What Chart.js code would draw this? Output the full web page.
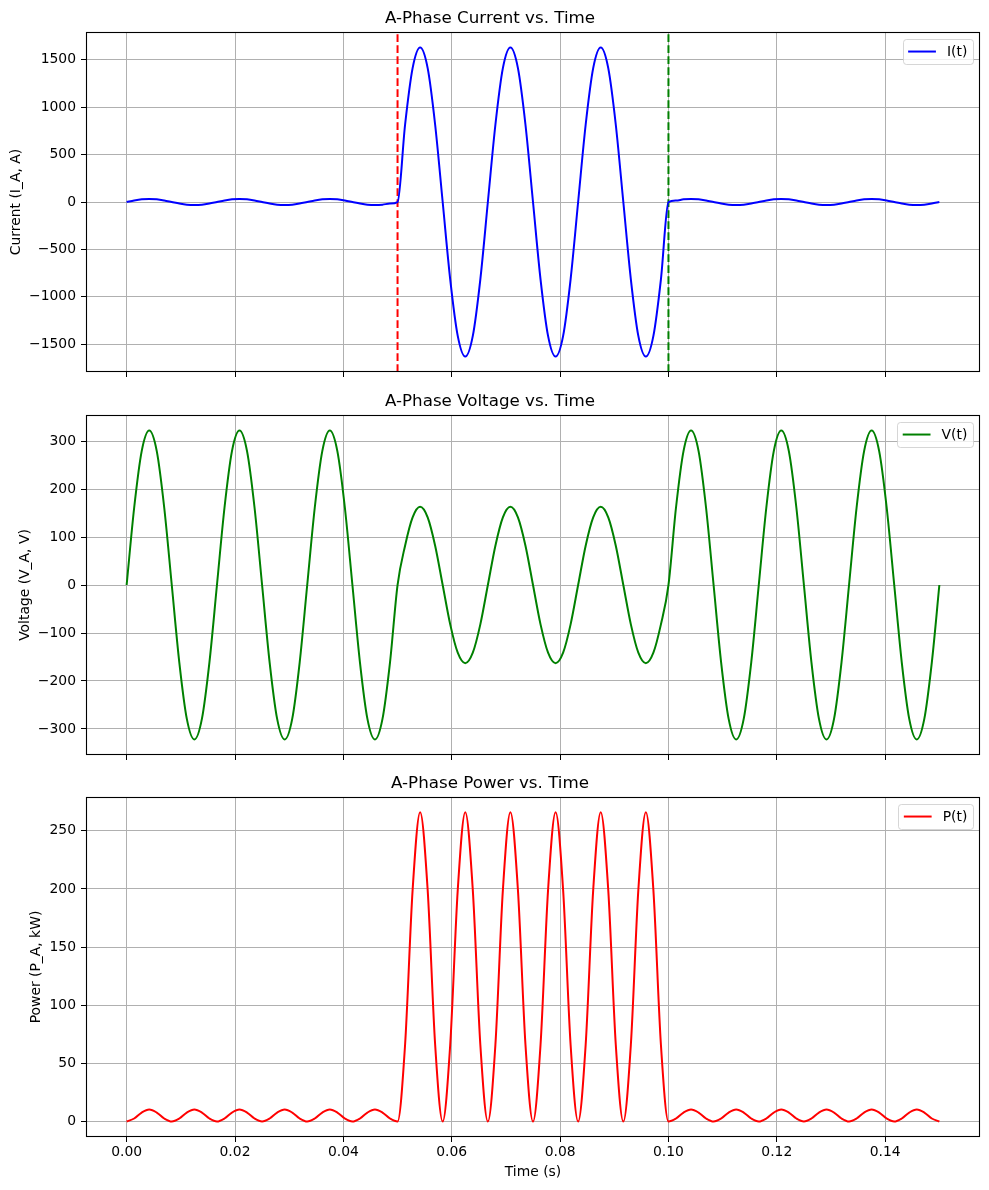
<!DOCTYPE html>
<html>
<head>
<meta charset="utf-8">
<script src="https://cdn.jsdelivr.net/npm/chart.js@4.4.0/dist/chart.umd.min.js"></script>
<style>
  html, body { margin: 0; padding: 0; background: #fff; }
  #fig { position: relative; width: 989px; height: 1190px; }
  #fig canvas { position: absolute; left: 0; }
</style>
</head>
<body>
<div id="fig">
  <canvas id="currentChart" width="989" height="400" style="top:0"></canvas>
  <canvas id="voltageChart" width="989" height="400" style="top:383px"></canvas>
  <canvas id="powerChart" width="989" height="425" style="top:765px"></canvas>
</div>
<script>
// sample times (s)
const time = [
  0, 0.00139, 0.00278, 0.00417, 0.00556, 0.00694, 0.00833, 0.00972, 0.01111, 0.0125, 0.01389, 0.01528,
  0.01667, 0.01806, 0.01944, 0.02083, 0.02222, 0.02361, 0.025, 0.02639, 0.02778, 0.02917, 0.03056, 0.03194,
  0.03333, 0.03472, 0.03611, 0.0375, 0.03889, 0.04028, 0.04167, 0.04306, 0.04444, 0.04583, 0.04722, 0.04861,
  0.05, 0.05139, 0.05278, 0.05417, 0.05556, 0.05694, 0.05833, 0.05972, 0.06111, 0.0625, 0.06389, 0.06528,
  0.06667, 0.06806, 0.06944, 0.07083, 0.07222, 0.07361, 0.075, 0.07639, 0.07778, 0.07917, 0.08056, 0.08194,
  0.08333, 0.08472, 0.08611, 0.0875, 0.08889, 0.09028, 0.09167, 0.09306, 0.09444, 0.09583, 0.09722, 0.09861,
  0.1, 0.10139, 0.10278, 0.10417, 0.10556, 0.10694, 0.10833, 0.10972, 0.11111, 0.1125, 0.11389, 0.11528,
  0.11667, 0.11806, 0.11944, 0.12083, 0.12222, 0.12361, 0.125, 0.12639, 0.12778, 0.12917, 0.13056, 0.13194,
  0.13333, 0.13472, 0.13611, 0.1375, 0.13889, 0.14028, 0.14167, 0.14306, 0.14444, 0.14583, 0.14722, 0.14861,
  0.15
];

// I_A (A)
const current = [
  0, 16, 28, 32, 28, 16, 0, -16, -28, -32, -28, -16,
  0, 16, 28, 32, 28, 16, 0, -16, -28, -32, -28, -16,
  0, 16, 28, 32, 28, 16, 0, -16, -28, -32, -28, -16,
  0, 815, 1412, 1630, 1412, 815, 0, -815, -1412, -1630, -1412, -815,
  0, 815, 1412, 1630, 1412, 815, 0, -815, -1412, -1630, -1412, -815,
  0, 815, 1412, 1630, 1412, 815, 0, -815, -1412, -1630, -1412, -815,
  0, 16, 28, 32, 28, 16, 0, -16, -28, -32, -28, -16,
  0, 16, 28, 32, 28, 16, 0, -16, -28, -32, -28, -16,
  0, 16, 28, 32, 28, 16, 0, -16, -28, -32, -28, -16,
  0
];

// V_A (V)
const voltage = [
  0, 161, 279, 322, 279, 161, 0, -161, -279, -322, -279, -161,
  0, 161, 279, 322, 279, 161, 0, -161, -279, -322, -279, -161,
  0, 161, 279, 322, 279, 161, 0, -161, -279, -322, -279, -161,
  0, 82, 141, 163, 141, 82, 0, -82, -141, -163, -141, -82,
  0, 82, 141, 163, 141, 82, 0, -82, -141, -163, -141, -82,
  0, 82, 141, 163, 141, 82, 0, -82, -141, -163, -141, -82,
  0, 161, 279, 322, 279, 161, 0, -161, -279, -322, -279, -161,
  0, 161, 279, 322, 279, 161, 0, -161, -279, -322, -279, -161,
  0, 161, 279, 322, 279, 161, 0, -161, -279, -322, -279, -161,
  0
];

// P_A (kW)
const power = [
  0, 2.6, 7.7, 10.3, 7.7, 2.6, 0, 2.6, 7.7, 10.3, 7.7, 2.6,
  0, 2.6, 7.7, 10.3, 7.7, 2.6, 0, 2.6, 7.7, 10.3, 7.7, 2.6,
  0, 2.6, 7.7, 10.3, 7.7, 2.6, 0, 2.6, 7.7, 10.3, 7.7, 2.6,
  0, 66, 199, 266, 199, 66, 0, 66, 199, 266, 199, 66,
  0, 66, 199, 266, 199, 66, 0, 66, 199, 266, 199, 66,
  0, 66, 199, 266, 199, 66, 0, 66, 199, 266, 199, 66,
  0, 2.6, 7.7, 10.3, 7.7, 2.6, 0, 2.6, 7.7, 10.3, 7.7, 2.6,
  0, 2.6, 7.7, 10.3, 7.7, 2.6, 0, 2.6, 7.7, 10.3, 7.7, 2.6,
  0, 2.6, 7.7, 10.3, 7.7, 2.6, 0, 2.6, 7.7, 10.3, 7.7, 2.6,
  0
];

const faultStart = 0.05;
const faultEnd = 0.1;

const timeTicks = [0, 0.02, 0.04, 0.06, 0.08, 0.1, 0.12, 0.14];
const currentTicks = [-1500, -1000, -500, 0, 500, 1000, 1500];
const voltageTicks = [-300, -200, -100, 0, 100, 200, 300];
const powerTicks = [0, 50, 100, 150, 200, 250];

const timeRange = [-0.0075, 0.1575];
const currentRange = [-1793, 1793];
const voltageRange = [-354.2, 354.2];
const powerRange = [-13.3, 279];

const FONT = 'DejaVu Sans';
const tickFont = { family: FONT, size: 13.9 };
const titleFont = { family: FONT, size: 16.7, weight: 'normal' };
const gridColor = '#b0b0b0';

Chart.defaults.color = '#000';
Chart.defaults.font.family = FONT;
Chart.defaults.devicePixelRatio = 1;

const minus = v => String(v).replace('-', '\u2212');

// full axes box + matplotlib-style legend
const framePlugin = {
  id: 'frame',
  afterDatasetsDraw(chart) {
    const { ctx, chartArea: a } = chart;
    ctx.save();
    ctx.strokeStyle = '#000';
    ctx.lineWidth = 1.1;
    ctx.strokeRect(Math.round(a.left) + 0.5, Math.round(a.top) + 0.5,
      Math.round(a.right - a.left) - 1, Math.round(a.bottom - a.top) - 1);

    const ds = chart.data.datasets.find(d => d.inLegend);
    if (ds) {
      ctx.font = '13.9px "' + FONT + '"';
      const tw = ctx.measureText(ds.label).width;
      const pad = 5.6, handle = 27.8, gap = 11.1, h = 25;
      const w = pad + handle + gap + tw + pad;
      const x = a.right - 7 - w, y = a.top + 7;
      ctx.beginPath();
      ctx.roundRect(Math.round(x) + 0.5, Math.round(y) + 0.5, Math.round(w), h, 3);
      ctx.fillStyle = 'rgba(255,255,255,0.8)';
      ctx.fill();
      ctx.strokeStyle = 'rgba(204,204,204,0.8)';
      ctx.lineWidth = 1;
      ctx.stroke();
      ctx.beginPath();
      ctx.moveTo(x + pad, y + h / 2);
      ctx.lineTo(x + pad + handle, y + h / 2);
      ctx.strokeStyle = ds.borderColor;
      ctx.lineWidth = 2;
      ctx.stroke();
      ctx.fillStyle = '#000';
      ctx.textBaseline = 'middle';
      ctx.textAlign = 'left';
      ctx.fillText(ds.label, x + pad + handle + gap, y + h / 2 + 0.5);
    }
    ctx.restore();
  }
};

function series(values, label, color) {
  return {
    label,
    inLegend: true,
    data: time.map((t, i) => ({ x: t, y: values[i] })),
    borderColor: color,
    backgroundColor: color,
    borderWidth: 2,
    pointRadius: 0,
    fill: false,
    cubicInterpolationMode: 'monotone'
  };
}

function vline(x, range, color) {
  return {
    label: '',
    data: [{ x, y: range[0] }, { x, y: range[1] }],
    borderColor: color,
    borderWidth: 2,
    borderDash: [7.7, 3.3],
    pointRadius: 0,
    fill: false
  };
}

function scales(yRange, yTicks, yTitle, yTitlePad, showX, xHeight) {
  return {
    x: {
      type: 'linear',
      min: timeRange[0],
      max: timeRange[1],
      afterBuildTicks: s => { s.ticks = timeTicks.map(v => ({ value: v })); },
      afterFit: s => { s.height = xHeight; },
      grid: { color: gridColor, lineWidth: 1, drawTicks: true, tickLength: 5, tickColor: '#000', tickWidth: 1 },
      border: { display: false },
      ticks: { display: showX, font: tickFont, padding: 2, maxRotation: 0, autoSkip: false,
        callback: v => v.toFixed(2) },
      title: { display: showX, text: 'Time (s)', font: tickFont, padding: { top: 0, bottom: 9 } }
    },
    y: {
      min: yRange[0],
      max: yRange[1],
      afterBuildTicks: s => { s.ticks = yTicks.map(v => ({ value: v })); },
      afterFit: s => { s.width = 86; },
      grid: { color: gridColor, lineWidth: 1, drawTicks: true, tickLength: 5, tickColor: '#000', tickWidth: 1 },
      border: { display: false },
      ticks: { font: tickFont, padding: 5, callback: v => minus(v) },
      title: { display: true, text: yTitle, font: tickFont, padding: { top: yTitlePad, bottom: 0 } }
    }
  };
}

function make(id, title, datasets, scaleOpts) {
  return new Chart(document.getElementById(id), {
    type: 'line',
    data: { datasets },
    options: {
      responsive: false,
      animation: false,
      layout: { padding: { left: 0, right: 9, top: 0, bottom: 0 } },
      plugins: {
        legend: { display: false },
        tooltip: { enabled: false },
        title: { display: true, text: title, font: titleFont, color: '#000', padding: { top: 9, bottom: 3 } }
      },
      scales: scaleOpts
    },
    plugins: [framePlugin]
  });
}

make('currentChart', 'A-Phase Current vs. Time',
  [series(current, 'I(t)', '#0000ff'),
   vline(faultStart, currentRange, '#ff0000'),
   vline(faultEnd, currentRange, '#008000')],
  scales(currentRange, currentTicks, 'Current (I_A, A)', 7.7, false, 28));

make('voltageChart', 'A-Phase Voltage vs. Time',
  [series(voltage, 'V(t)', '#008000')],
  scales(voltageRange, voltageTicks, 'Voltage (V_A, V)', 16.7, false, 28));

make('powerChart', 'A-Phase Power vs. Time',
  [series(power, 'P(t)', '#ff0000')],
  scales(powerRange, powerTicks, 'Power (P_A, kW)', 27.7, true, 53));
</script>
</body>
</html>
